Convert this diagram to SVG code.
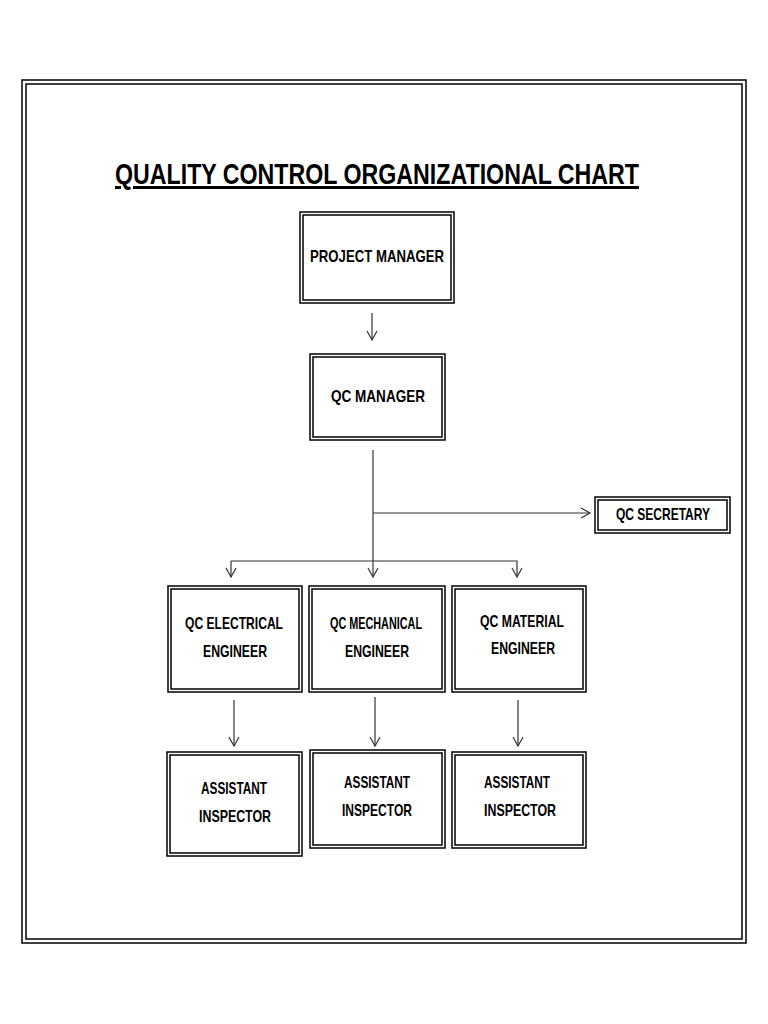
<svg xmlns="http://www.w3.org/2000/svg" width="768" height="1024" viewBox="0 0 768 1024">
<style>
.o{fill:none;stroke:#000;stroke-width:1.5}
.i{fill:#fff;stroke:#000;stroke-width:1.5}
.t{font-family:"Liberation Sans",Arial,sans-serif;font-weight:bold;font-size:17px;text-anchor:middle;fill:#000}
.c{fill:none;stroke:#333;stroke-width:1.2}
</style>
<defs>
<marker id="a" markerWidth="12" markerHeight="12" refX="10" refY="6" orient="auto" markerUnits="userSpaceOnUse">
<path d="M1,1 L10,6 L1,11" fill="none" stroke="#333" stroke-width="1.2"/>
</marker>
</defs>
<rect width="768" height="1024" fill="#fff"/>
<rect x="22" y="80" width="724" height="863" class="o" stroke-width="2"/>
<rect x="26" y="84" width="716" height="855" class="o"/>
<text x="377" y="184" font-family="'Liberation Sans',Arial,sans-serif" font-weight="bold" font-size="30" text-anchor="middle" textLength="524" lengthAdjust="spacingAndGlyphs" text-decoration="underline">QUALITY CONTROL ORGANIZATIONAL CHART</text>
<g id="connectors">
<line x1="372" y1="313" x2="372" y2="340" class="c" marker-end="url(#a)"/>
<line x1="373" y1="450" x2="373" y2="577" class="c" marker-end="url(#a)"/>
<line x1="373" y1="513" x2="590" y2="513" class="c" marker-end="url(#a)"/>
<polyline points="231,561 517,561 517,577" class="c" marker-end="url(#a)"/>
<line x1="231" y1="561" x2="231" y2="577" class="c" marker-end="url(#a)"/>
<line x1="234" y1="700" x2="234" y2="746" class="c" marker-end="url(#a)"/>
<line x1="375" y1="697" x2="375" y2="746" class="c" marker-end="url(#a)"/>
<line x1="518" y1="700" x2="518" y2="746" class="c" marker-end="url(#a)"/>
</g>
<g id="pm"><rect x="300" y="212" width="154" height="91" class="o"/><rect x="303" y="215" width="148" height="85" class="i"/><text x="377" y="262" class="t" textLength="134" lengthAdjust="spacingAndGlyphs">PROJECT MANAGER</text></g>
<g id="qcm"><rect x="310" y="354" width="135" height="86" class="o"/><rect x="313" y="357" width="129" height="80" class="i"/><text x="378" y="402" class="t" textLength="94" lengthAdjust="spacingAndGlyphs">QC MANAGER</text></g>
<g id="sec"><rect x="595" y="497" width="135" height="36" class="o"/><rect x="598" y="500" width="129" height="30" class="i"/><text x="663" y="520" class="t" textLength="94" lengthAdjust="spacingAndGlyphs">QC SECRETARY</text></g>
<g id="ee"><rect x="168" y="586" width="134" height="106" class="o"/><rect x="171" y="589" width="128" height="100" class="i"/><text x="234" y="629" class="t" textLength="98" lengthAdjust="spacingAndGlyphs">QC ELECTRICAL</text><text x="235" y="657" class="t" textLength="64" lengthAdjust="spacingAndGlyphs">ENGINEER</text></g>
<g id="me"><rect x="309" y="586" width="136" height="106" class="o"/><rect x="312" y="589" width="130" height="100" class="i"/><text x="376" y="629" class="t" textLength="92" lengthAdjust="spacingAndGlyphs">QC MECHANICAL</text><text x="377" y="657" class="t" textLength="64" lengthAdjust="spacingAndGlyphs">ENGINEER</text></g>
<g id="mat"><rect x="452" y="586" width="134" height="106" class="o"/><rect x="455" y="589" width="128" height="100" class="i"/><text x="522" y="627" class="t" textLength="84" lengthAdjust="spacingAndGlyphs">QC MATERIAL</text><text x="523" y="654" class="t" textLength="64" lengthAdjust="spacingAndGlyphs">ENGINEER</text></g>
<g id="ai1"><rect x="167" y="752" width="135" height="104" class="o"/><rect x="170" y="755" width="129" height="98" class="i"/><text x="234" y="794" class="t" textLength="66" lengthAdjust="spacingAndGlyphs">ASSISTANT</text><text x="235" y="822" class="t" textLength="72" lengthAdjust="spacingAndGlyphs">INSPECTOR</text></g>
<g id="ai2"><rect x="310" y="750" width="135" height="98" class="o"/><rect x="313" y="753" width="129" height="92" class="i"/><text x="377" y="788" class="t" textLength="66" lengthAdjust="spacingAndGlyphs">ASSISTANT</text><text x="377" y="816" class="t" textLength="70" lengthAdjust="spacingAndGlyphs">INSPECTOR</text></g>
<g id="ai3"><rect x="452" y="752" width="134" height="96" class="o"/><rect x="455" y="755" width="128" height="90" class="i"/><text x="517" y="788" class="t" textLength="66" lengthAdjust="spacingAndGlyphs">ASSISTANT</text><text x="520" y="816" class="t" textLength="72" lengthAdjust="spacingAndGlyphs">INSPECTOR</text></g>
</svg>
